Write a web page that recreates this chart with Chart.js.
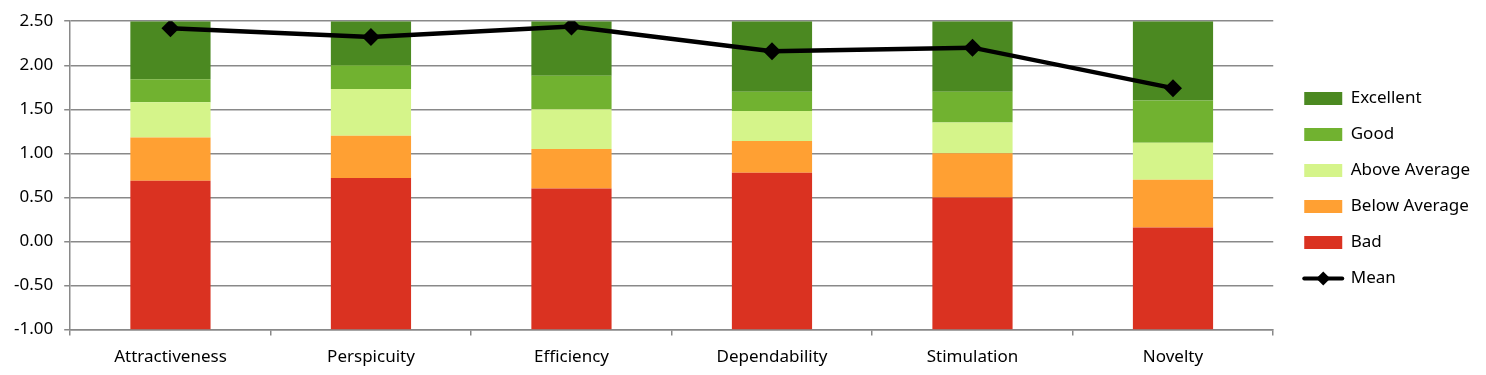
<!DOCTYPE html>
<html>
<head>
<meta charset="utf-8">
<script src="https://cdn.jsdelivr.net/npm/chart.js@4"></script>
<style>
  html, body { margin: 0; padding: 0; background: #fff; }
  #wrap { width: 1486px; height: 375px; }
</style>
</head>
<body>
<div id="wrap"><canvas id="myChart" width="1486" height="375"></canvas></div>
<script>
// scales and categories
var categories = ['Attractiveness', 'Perspicuity', 'Efficiency', 'Dependability', 'Stimulation', 'Novelty'];
var axisMin = -1.0;
var axisMax = 2.5;

// benchmark upper borders of each band
var badTop = [0.69, 0.72, 0.60, 0.78, 0.50, 0.16];
var belowAvgTop = [1.18, 1.20, 1.05, 1.14, 1.00, 0.70];
var aboveAvgTop = [1.58, 1.73, 1.50, 1.48, 1.35, 1.12];
var goodTop = [1.84, 2.00, 1.88, 1.70, 1.70, 1.60];
var excellentTop = [2.50, 2.50, 2.50, 2.50, 2.50, 2.50];

// mean value of the product
var mean = [2.42, 2.32, 2.44, 2.16, 2.20, 1.74];

// floating bar ranges from lower and upper borders
function band(lower, upper) {
    return upper.map(function (u, i) {
        var l = Array.isArray(lower) ? lower[i] : lower;
        return [l, u];
    });
}

var font = { family: "'Noto Sans', sans-serif", size: 17 };
var gridColor = '#898989';

// push the legend a bit further away from the plot, and a bit up
var legendGap = {
    id: 'legendGap',
    afterLayout: function (chart) {
        if (!chart.legend) return;
        chart.legend.left += 12;
        chart.legend.right += 12;
        chart.legend.top -= 6;
        chart.legend.bottom -= 6;
    }
};

// draws the line + diamond for the Mean legend entry
var meanLegendMarker = {
    id: 'meanLegendMarker',
    afterDraw: function (chart) {
        var legend = chart.legend;
        if (!legend || !legend.legendItems) return;
        var ctx = chart.ctx;
        legend.legendItems.forEach(function (item, i) {
            if (item.text !== 'Mean') return;
            var box = legend.legendHitBoxes[i];
            var bw = legend.options.labels.boxWidth;
            var cx = box.left + bw / 2;
            var cy = box.top + box.height / 2;
            ctx.save();
            ctx.strokeStyle = '#000';
            ctx.lineWidth = 4;
            ctx.lineCap = 'round';
            ctx.beginPath();
            ctx.moveTo(box.left, cy);
            ctx.lineTo(box.left + bw, cy);
            ctx.stroke();
            ctx.fillStyle = '#000';
            ctx.beginPath();
            ctx.moveTo(cx, cy - 7);
            ctx.lineTo(cx + 7, cy);
            ctx.lineTo(cx, cy + 7);
            ctx.lineTo(cx - 7, cy);
            ctx.closePath();
            ctx.fill();
            ctx.restore();
        });
    }
};

var ctx = document.getElementById('myChart').getContext('2d');

var myChart = new Chart(ctx, {
    type: 'bar',
    data: {
        labels: categories,
        datasets: [
            {
                type: 'line',
                label: 'Mean',
                data: mean,
                borderColor: '#000',
                backgroundColor: '#000',
                borderWidth: 4.5,
                pointStyle: 'rectRot',
                pointRadius: 9,
                pointBorderWidth: 0,
                pointBackgroundColor: '#000',
                tension: 0
            },
            { label: 'Bad', data: band(axisMin, badTop), backgroundColor: '#DA3221' },
            { label: 'Below Average', data: band(badTop, belowAvgTop), backgroundColor: '#FFA033' },
            { label: 'Above Average', data: band(belowAvgTop, aboveAvgTop), backgroundColor: '#D5F48A' },
            { label: 'Good', data: band(aboveAvgTop, goodTop), backgroundColor: '#71B230' },
            { label: 'Excellent', data: band(goodTop, excellentTop), backgroundColor: '#4B8921' }
        ]
    },
    options: {
        responsive: false,
        animation: false,
        layout: { padding: { left: 3, right: 18, top: 11, bottom: -3 } },
        datasets: {
            bar: { barPercentage: 0.4, categoryPercentage: 1.0, borderSkipped: false }
        },
        plugins: {
            tooltip: { enabled: false },
            legend: {
                position: 'right',
                reverse: true,
                labels: {
                    color: '#000',
                    font: font,
                    boxWidth: 38,
                    boxHeight: 13,
                    padding: 19,
                    generateLabels: function (chart) {
                        var items = Chart.defaults.plugins.legend.labels.generateLabels(chart);
                        items.forEach(function (it) {
                            it.lineWidth = 0;
                            if (it.text === 'Mean') {
                                it.fillStyle = 'rgba(0,0,0,0)';
                                it.strokeStyle = 'rgba(0,0,0,0)';
                            }
                        });
                        return items;
                    }
                }
            }
        },
        scales: {
            x: {
                stacked: true,
                offset: true,
                grid: {
                    offset: true,
                    drawOnChartArea: false,
                    drawTicks: true,
                    tickLength: 6,
                    color: gridColor,
                    lineWidth: 1.5
                },
                border: { color: gridColor, width: 1.5 },
                ticks: { color: '#000', font: font, padding: 11, maxRotation: 0 }
            },
            y: {
                stacked: false,
                min: axisMin,
                max: axisMax,
                grid: {
                    color: gridColor,
                    lineWidth: 1.5,
                    tickLength: 6
                },
                border: { color: gridColor, width: 1.5 },
                ticks: {
                    stepSize: 0.5,
                    color: '#000',
                    font: font,
                    padding: 11,
                    callback: function (v) { return Number(v).toFixed(2); }
                }
            }
        }
    },
    plugins: [legendGap, meanLegendMarker]
});
</script>
</body>
</html>
